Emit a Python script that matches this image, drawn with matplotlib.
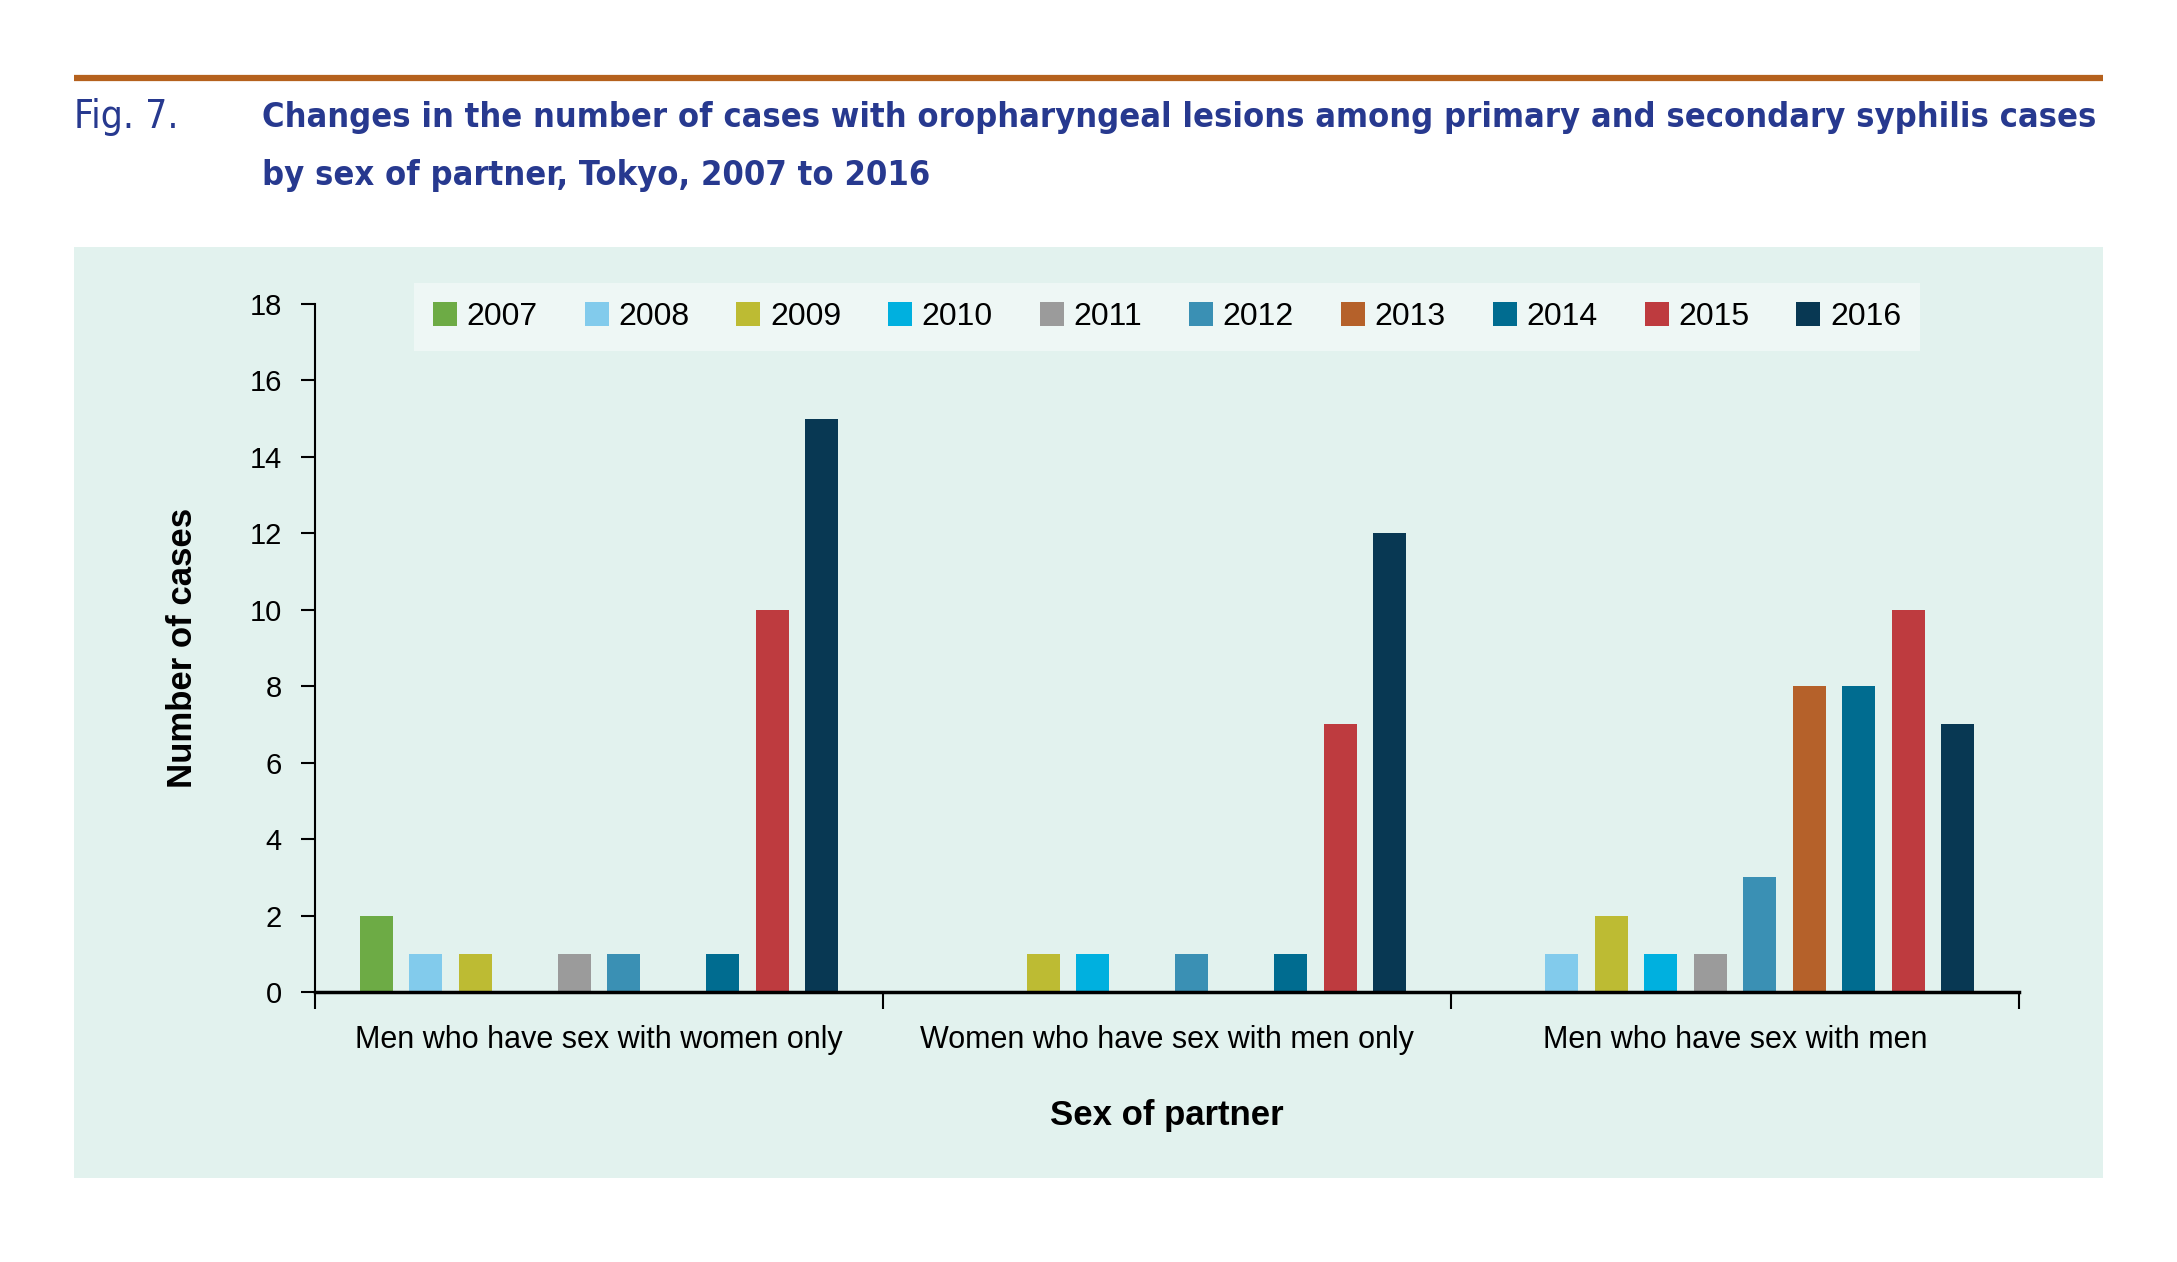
import matplotlib.pyplot as plt
import numpy as np
from matplotlib.patches import Patch, Rectangle
from matplotlib.lines import Line2D

# data
groups = ["Men who have sex with women only",
          "Women who have sex with men only",
          "Men who have sex with men"]
years = ["2007", "2008", "2009", "2010", "2011",
         "2012", "2013", "2014", "2015", "2016"]
colors = ["#6DAB45", "#82CBEC", "#BDBB33", "#00B0DF", "#9B9B9B",
          "#3A90B4", "#B5612A", "#006C90", "#BE3B3F", "#083853"]
msw = [2, 1, 1, 0, 1, 1, 0, 1, 10, 15]
wsm = [0, 0, 1, 1, 0, 1, 0, 1, 7, 12]
msm = [0, 1, 2, 1, 1, 3, 8, 8, 10, 7]
counts = np.array([msw, wsm, msm])  # rows = groups, cols = years

title1 = "Changes in the number of cases with oropharyngeal lesions among primary and secondary syphilis cases"
title2 = "by sex of partner, Tokyo, 2007 to 2016"

W, H = 2177, 1262
fig = plt.figure(figsize=(W / 100, H / 100), dpi=100)
fig.patch.set_facecolor("white")

navy = "#27398F"
sans = ["Liberation Sans", "DejaVu Sans"]

# orange rule + light panel behind the chart
fig.add_artist(Line2D([74 / W, 2103 / W], [1 - 78 / H, 1 - 78 / H],
                      color="#B5611D", lw=4.5, solid_capstyle="butt"))
fig.add_artist(Rectangle((74 / W, 1 - 1178 / H), (2103 - 74) / W, (1178 - 247) / H,
                         facecolor="#E2F2EE", edgecolor="none", zorder=0))

# heading (condensed face; size fitted to the line width)
fig.text(74 / W, 1 - 117 / H, "Fig. 7.", color=navy, fontsize=28,
         family="DejaVu Sans", stretch="condensed", weight="light",
         va="center", ha="left")
t1 = fig.text(262 / W, 1 - 117 / H, title1, color=navy, fontsize=30,
              family="DejaVu Sans", stretch="condensed", weight="bold",
              va="center", ha="left")
t2 = fig.text(262 / W, 1 - 176 / H, title2, color=navy, fontsize=30,
              family="DejaVu Sans", stretch="condensed", weight="bold",
              va="center", ha="left")
r = fig.canvas.get_renderer()
size = 30
for _ in range(3):
    wid = t1.get_window_extent(r).width
    size = size * (2100 - 262) / wid
    t1.set_fontsize(size)
t2.set_fontsize(size)

ax = fig.add_axes([315 / W, 1 - 992 / H, (2019 - 315) / W, (992 - 304) / H])
ax.set_facecolor("none")

slot = 0.0871
bw = 0.058
x = np.arange(len(groups))
for j, yr in enumerate(years):
    off = (j - 4.5) * slot
    ax.bar(x + off, counts[:, j], width=bw, color=colors[j], label=yr, zorder=2)

ax.set_xlim(-0.5, 2.5)
ax.set_ylim(0, 18)
ax.set_yticks(range(0, 19, 2))
ax.set_xticks([-0.5, 0.5, 1.5, 2.5])
ax.set_xticklabels([])
ax.set_xticks(x, minor=True)
ax.set_xticklabels(groups, minor=True, fontsize=22, family=sans)
ax.tick_params(axis="x", which="major", direction="out", length=12, width=1.5)
ax.tick_params(axis="x", which="minor", length=0, pad=24)
ax.tick_params(axis="y", direction="out", length=10, width=1.5, pad=14,
               labelsize=21)
for lab in ax.get_yticklabels():
    lab.set_family(sans)

for s in ["top", "right"]:
    ax.spines[s].set_visible(False)
ax.spines["left"].set_linewidth(1.5)
ax.spines["bottom"].set_linewidth(2.5)

fig.text(183 / W, 1 - 648 / H, "Number of cases", rotation=90, fontsize=25,
         weight="bold", family=sans, ha="center", va="center")
fig.text((315 + 2019) / 2 / W, 1 - 1115 / H, "Sex of partner", fontsize=25,
         weight="bold", family=sans, ha="center", va="center")

handles = [Patch(facecolor=c, edgecolor="none") for c in colors]
leg = ax.legend(handles, years, ncol=10, mode="expand",
                bbox_to_anchor=(0.058, 0.9375, 0.884, 0.093), loc="upper left",
                borderaxespad=0, borderpad=0.6, frameon=True, fancybox=False,
                handlelength=0.75, handleheight=0.75, handletextpad=0.3,
                prop={"family": sans, "size": 23})
leg.get_frame().set_facecolor("#EEF7F5")
leg.get_frame().set_edgecolor("none")
leg.get_frame().set_alpha(1)

fig.savefig("out.png", dpi=100)
